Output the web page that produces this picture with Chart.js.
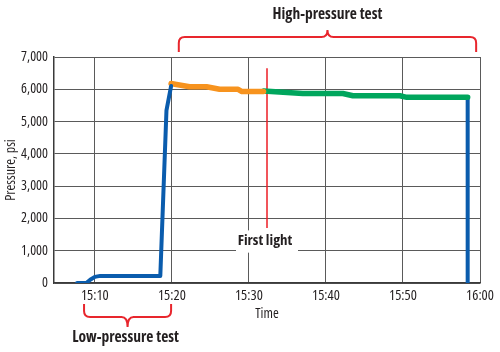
<!DOCTYPE html>
<html>
<head>
  <title>Pressure test</title>
  <script src="https://cdn.jsdelivr.net/npm/chart.js"></script>
  <style>
    body { margin: 0; background: #fff; }
    #wrap { width: 500px; height: 352px; }
  </style>
</head>
<body>
  <div id="wrap"><canvas id="myChart" width="500" height="352"></canvas></div>
  <script>
    // times are minutes after 15:00
    var lowTimes = [7.7, 8.9, 9.4, 10.0, 10.7, 18.5, 19.3, 19.9];
    var lowPressures = [0, 0, 100, 190, 220, 220, 5350, 6100];

    var earlyTimes = [19.9, 20.6, 22.3, 24.5, 26.2, 28.6, 29.1, 31.9];
    var earlyPressures = [6180, 6150, 6080, 6080, 6000, 6000, 5930, 5930];

    var lateTimes = [31.9, 37.0, 42.2, 43.5, 49.6, 50.5, 58.4];
    var latePressures = [5950, 5870, 5870, 5800, 5800, 5750, 5750];

    var dropTimes = [58.4, 58.4];
    var dropPressures = [5750, 0];

    var xTickValues = [10, 20, 30, 40, 50, 60];
    var xTickLabels = ['15:10', '15:20', '15:30', '15:40', '15:50', '16:00'];

    var firstLightTime = 32.3;
    var lowTestSpan = [8.6, 19.9];
    var highTestSpan = [20.9, 59.5];

    var FAMILY = "'Open Sans', sans-serif";
    var INK = '#231f20';

    function pts(xs, ys) {
      var out = [];
      for (var i = 0; i < xs.length; i++) out.push({ x: xs[i], y: ys[i] });
      return out;
    }

    function brace(ctx, x1, x2, yEnd, yBar, yTip) {
      var r = 6;
      var s = yEnd > yBar ? 1 : -1;
      var xm = (x1 + x2) / 2;
      ctx.beginPath();
      ctx.moveTo(x1, yEnd);
      ctx.lineTo(x1, yBar + s * r);
      ctx.quadraticCurveTo(x1, yBar, x1 + r, yBar);
      ctx.lineTo(xm - r, yBar);
      ctx.quadraticCurveTo(xm, yBar, xm, yTip);
      ctx.quadraticCurveTo(xm, yBar, xm + r, yBar);
      ctx.lineTo(x2 - r, yBar);
      ctx.quadraticCurveTo(x2, yBar, x2, yBar + s * r);
      ctx.lineTo(x2, yEnd);
      ctx.stroke();
    }

    var notes = {
      id: 'notes',
      beforeDatasetsDraw: function(chart) {
        var ctx = chart.ctx;
        var xs = chart.scales.x, ys = chart.scales.y;
        var lx = Math.round(xs.getPixelForValue(firstLightTime));
        var top = ys.getPixelForValue(1630), bot = ys.getPixelForValue(940);
        ctx.save();
        // white box behind label
        ctx.fillStyle = '#fff';
        ctx.fillRect(lx - 31, top, 62, bot - top);
        ctx.strokeStyle = '#ed1c24';
        ctx.lineWidth = 1.5;
        ctx.beginPath();
        ctx.moveTo(lx, ys.getPixelForValue(6650));
        ctx.lineTo(lx, ys.getPixelForValue(1700));
        ctx.stroke();
        ctx.fillStyle = INK;
        ctx.font = 'bold condensed 15px ' + FAMILY;
        ctx.textAlign = 'center';
        ctx.textBaseline = 'middle';
        ctx.fillText('First light', lx - 2, ys.getPixelForValue(1300));
        ctx.restore();
      },
      afterDraw: function(chart) {
        var ctx = chart.ctx;
        var xs = chart.scales.x;
        ctx.save();
        ctx.strokeStyle = '#e8262d';
        ctx.lineWidth = 2;
        brace(ctx, xs.getPixelForValue(highTestSpan[0]), xs.getPixelForValue(highTestSpan[1]), 52, 37, 30);
        brace(ctx, xs.getPixelForValue(lowTestSpan[0]), xs.getPixelForValue(lowTestSpan[1]), 304, 317, 327);
        ctx.fillStyle = INK;
        ctx.font = 'bold condensed 15.5px ' + FAMILY;
        ctx.textAlign = 'center';
        ctx.textBaseline = 'middle';
        ctx.fillText('High-pressure test', xs.getPixelForValue((highTestSpan[0] + highTestSpan[1]) / 2), 15);
        ctx.fillText('Low-pressure test', xs.getPixelForValue((lowTestSpan[0] + lowTestSpan[1]) / 2) - 2, 338);
        ctx.restore();
      }
    };

    var tickFont = { family: FAMILY, weight: 'condensed', size: 14 };
    var titleFont = { family: FAMILY, weight: 'condensed', size: 14 };

    var ctx = document.getElementById('myChart').getContext('2d');
    var chart = new Chart(ctx, {
      type: 'line',
      data: {
        datasets: [
          { data: pts(lowTimes, lowPressures), borderColor: '#0a5cad', borderWidth: 4 },
          { data: pts(earlyTimes, earlyPressures), borderColor: '#f7931e', borderWidth: 5.5 },
          { data: pts(lateTimes, latePressures), borderColor: '#00a65d', borderWidth: 5.5 },
          { data: pts(dropTimes, dropPressures), borderColor: '#0a5cad', borderWidth: 4 }
        ]
      },
      options: {
        responsive: false,
        animation: false,
        events: [],
        layout: { padding: { top: 57, right: 20, bottom: 30, left: 1 } },
        elements: {
          point: { radius: 0 },
          line: { tension: 0, borderCapStyle: 'round', borderJoinStyle: 'round' }
        },
        plugins: { legend: { display: false }, tooltip: { enabled: false } },
        scales: {
          x: {
            type: 'linear',
            min: 4.7,
            max: 60,
            afterBuildTicks: function(axis) {
              axis.ticks = xTickValues.map(function(v) { return { value: v }; });
            },
            afterFit: function(axis) { axis.height = 39; },
            ticks: {
              color: INK,
              font: { family: FAMILY, weight: 'condensed', size: 14.5 },
              padding: 4,
              maxRotation: 0,
              autoSkip: false,
              callback: function(v) { return xTickLabels[xTickValues.indexOf(v)]; }
            },
            grid: { color: '#5a5a5a', lineWidth: 1, drawTicks: false },
            border: { color: '#3a3a3a', width: 1.5 },
            title: { display: true, text: 'Time', color: INK, font: titleFont, padding: 0 }
          },
          y: {
            min: 0,
            max: 7000,
            afterFit: function(axis) { axis.width = 53; },
            ticks: {
              stepSize: 1000,
              color: INK,
              font: tickFont,
              padding: 6,
              callback: function(v) { return v.toLocaleString('en-US'); }
            },
            grid: { color: '#5a5a5a', lineWidth: 1, drawTicks: false },
            border: { color: '#3a3a3a', width: 1.5 },
            title: { display: true, text: 'Pressure, psi', color: INK, font: titleFont, padding: 2 }
          }
        }
      },
      plugins: [notes]
    });
  </script>
</body>
</html>
